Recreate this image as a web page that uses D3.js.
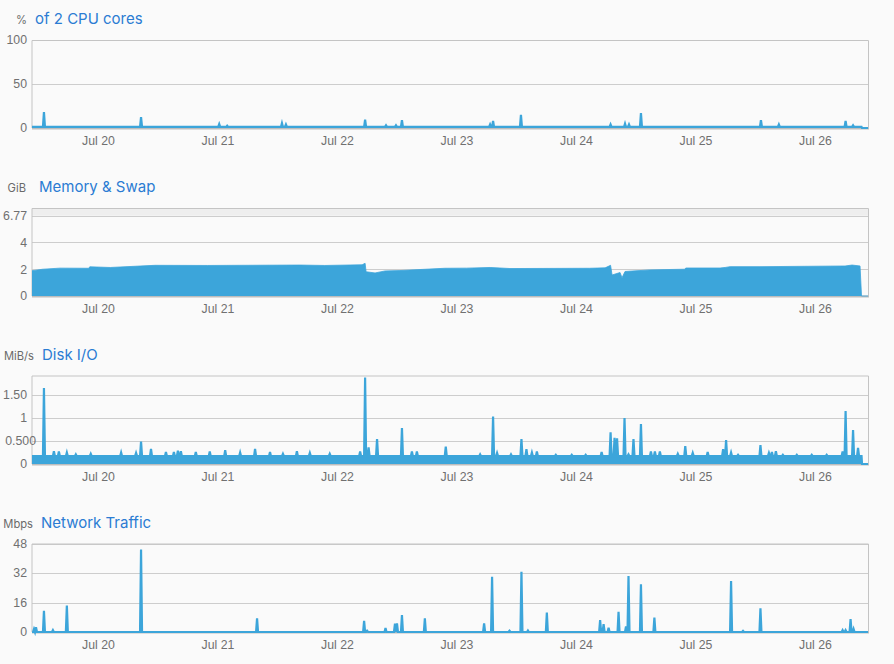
<!DOCTYPE html>
<html>
<head>
<meta charset="utf-8">
<script src="https://cdn.jsdelivr.net/npm/d3@7/dist/d3.min.js"></script>
<style>
  body { margin: 0; background: #fafafa; }
  svg { display: block; font-family: Inter, sans-serif; }
  .grid line { stroke: #cdcdcd; }
  .tick text { fill: #707070; font-size: 12.3px; }
  .title { fill: #2b7cd3; font-size: 15px; }
  .unit { fill: #6a6a6a; font-size: 11.2px; }
</style>
</head>
<body>
<svg id="chart" width="894" height="664"></svg>
<script>
// all times are hours after the left edge of the plots (Jul 19 12:33)
var dayLabels = ["Jul 20", "Jul 21", "Jul 22", "Jul 23", "Jul 24", "Jul 25", "Jul 26"];
var spanHours = 167.9;
var lastSample = 166.6;

var cpuHours = [2.4, 21.9, 37.6, 39.2, 50.2, 51.0, 66.9, 71.1, 73.1, 74.3, 92.0, 92.6, 98.2, 116.2, 119.1, 119.9, 122.3, 146.4, 150.0, 163.4, 164.9];
var cpuValues = [18, 12.5, 4.5, 2.5, 5.5, 4, 9.5, 3, 3, 9, 4, 8, 15, 4, 5, 4, 17, 9, 4, 8, 3];
var cpuBase = 1.2;
var cpuTicks = [0, 50, 100];

var memHours = [0, 2.2, 5.6, 11.4, 11.6, 15.7, 24.7, 35.3, 53.8, 58.8, 66.3, 66.9, 67.1, 68.9, 70.9, 73.9, 82.9, 87.3, 92.0, 96.0, 112, 115.1, 116.2, 116.5, 118.1, 118.5, 119.1, 122.1, 124.1, 131.1, 131.3, 138.2, 139.2, 140.2, 146.2, 163.3, 164.7, 166.3, 166.6, 167.9];
var memValues = [1.89, 2.0, 2.08, 2.07, 2.18, 2.13, 2.29, 2.28, 2.31, 2.28, 2.33, 2.44, 1.81, 1.72, 1.87, 1.9, 2.07, 2.08, 2.13, 2.05, 2.07, 2.1, 2.29, 1.57, 1.75, 1.37, 1.83, 1.9, 1.95, 2.0, 2.09, 2.09, 2.13, 2.19, 2.19, 2.24, 2.31, 2.24, 0, 0];
var memTicks = [0, 2, 4, 6];
var memTickLabels = ["0", "2", "4", "6.77"];
var memLimit = 6;

var diskHours = [2.4, 4.4, 5.4, 7.0, 8.8, 11.8, 17.9, 20.9, 21.9, 23.9, 26.9, 28.5, 29.3, 29.9, 32.9, 35.7, 38.8, 41.8, 44.8, 47.8, 50.4, 53.2, 55.8, 59.8, 65.9, 66.9, 67.6, 69.3, 74.3, 76.3, 77.3, 83.1, 90.0, 92.6, 93.4, 96.2, 98.3, 99.3, 100.4, 101.4, 105.2, 108.4, 111.2, 114.4, 116.2, 117.0, 117.5, 118.5, 119.0, 119.8, 120.8, 122.3, 124.3, 125.1, 126.1, 129.7, 131.2, 132.7, 135.7, 138.8, 139.4, 140.4, 141.8, 146.3, 148.0, 148.6, 149.4, 150.8, 153.6, 156.6, 159.6, 162.8, 163.4, 164.9, 165.9];
var diskValues = [1.65, 0.28, 0.27, 0.25, 0.21, 0.22, 0.25, 0.24, 0.49, 0.33, 0.26, 0.26, 0.29, 0.28, 0.26, 0.27, 0.3, 0.25, 0.33, 0.26, 0.22, 0.28, 0.24, 0.22, 0.27, 1.88, 0.36, 0.54, 0.78, 0.27, 0.27, 0.38, 0.21, 1.03, 0.24, 0.21, 0.54, 0.32, 0.25, 0.27, 0.2, 0.2, 0.2, 0.26, 0.69, 0.57, 0.56, 0.03, 1.0, 0.21, 0.54, 0.87, 0.27, 0.27, 0.27, 0.22, 0.39, 0.24, 0.26, 0.32, 0.52, 0.25, 0.2, 0.41, 0.24, 0.26, 0.28, 0.2, 0.2, 0.2, 0.2, 0.27, 1.15, 0.74, 0.35];
var diskBase = 0.17;
var diskTicks = [0, 0.5, 1, 1.5];
var diskTickLabels = ["0", "0.500", "1", "1.50"];

var netHours = [0.4, 0.8, 2.4, 4.2, 7.0, 21.9, 45.2, 66.7, 67.3, 71.0, 72.9, 73.3, 74.3, 78.9, 90.8, 92.4, 95.9, 98.3, 99.6, 103.4, 114.1, 114.8, 115.8, 117.8, 119.3, 119.8, 122.3, 125.0, 140.4, 142.8, 146.3, 162.8, 163.4, 164.4, 165.0];
var netValues = [1.6, 2.6, 11.5, 1, 14.3, 44.8, 7.4, 6.1, 0.7, 2.2, 4.6, 4.7, 9.2, 7.4, 4.7, 30, 0.7, 32.7, 0.8, 10.5, 6.5, 4.3, 2.3, 11, 3, 30.4, 25.9, 7.8, 27.7, 0.6, 12.9, 1, 1, 7, 1.7];
var netBase = 0;
var netTicks = [0, 16, 32, 48];

var svg = d3.select("#chart");
var left = 32, right = 868;
var start = new Date(2021, 6, 19, 12, 33);

function toDate(h) { return new Date(start.getTime() + h * 3600000); }

var x = d3.scaleTime()
  .domain([start, toDate(spanHours)])
  .range([left, right]);

// a sample series sits on its base level with a short peak at each reading
function spikes(hours, values, base) {
  var pts = [[0, base]];
  hours.forEach(function(h, i) {
    pts.push([h - 0.2, base], [h, values[i]], [h + 0.2, base]);
  });
  pts.push([lastSample, base], [lastSample + 0.1, 0], [spanHours, 0]);
  return pts;
}

function zip(hours, values) {
  return hours.map(function(h, i) { return [h, values[i]]; });
}

function drawPanel(p) {
  var y = d3.scaleLinear().domain(p.domain).range([p.bottom, p.top]);
  var g = svg.append("g");

  if (p.limit) {
    g.append("rect")
      .attr("x", left).attr("width", right - left)
      .attr("y", p.top).attr("height", y(p.limit) - p.top)
      .attr("fill", "#eeeeee");
  }

  var grid = g.append("g").attr("class", "grid");
  grid.selectAll("line")
    .data(p.ticks.filter(function(d) { return d > 0; }))
    .enter().append("line")
    .attr("x1", left).attr("x2", right)
    .attr("y1", function(d) { return Math.round(y(d)) + 0.5; })
    .attr("y2", function(d) { return Math.round(y(d)) + 0.5; });

  g.append("path")
    .attr("d", "M" + left + "," + p.bottom + "V" + (p.top + 0.5) + "H" + (right + 0.5) + "V" + p.bottom)
    .attr("fill", "none").attr("stroke", "#c4c4c4").attr("stroke-width", 1);
  g.append("line")
    .attr("x1", left).attr("x2", right + 1)
    .attr("y1", p.bottom + 0.5).attr("y2", p.bottom + 0.5)
    .attr("stroke", "#bdbdbd").attr("stroke-width", 2);

  var area = d3.area()
    .x(function(d) { return x(toDate(d[0])); })
    .y0(p.bottom)
    .y1(function(d) { return y(d[1]); });
  var line = d3.line()
    .x(function(d) { return x(toDate(d[0])); })
    .y(function(d) { return y(d[1]); });

  g.append("path").datum(p.points)
    .attr("d", area).attr("fill", "#3ca5da");
  g.append("path").datum(p.points)
    .attr("d", line).attr("fill", "none")
    .attr("stroke", "#3ca5da").attr("stroke-width", p.stroke);

  var yAxis = d3.axisLeft(y)
    .tickValues(p.ticks)
    .tickSize(0)
    .tickPadding(5)
    .tickFormat(function(d, i) { return p.labels ? p.labels[i] : d; });
  var ya = g.append("g").attr("transform", "translate(" + left + ",0)").call(yAxis);
  ya.select(".domain").remove();
  // the long label runs over the plot edge in the original
  ya.selectAll("text").filter(function(d) { return p.labels && p.labels[p.ticks.indexOf(d)] === "0.500"; })
    .attr("x", 4);

  var days = d3.timeDay.range(new Date(2021, 6, 20), new Date(2021, 6, 27));
  var xAxis = d3.axisBottom(x)
    .tickValues(days)
    .tickSize(0)
    .tickPadding(8)
    .tickFormat(function(d, i) { return dayLabels[i]; });
  var xa = g.append("g").attr("transform", "translate(0," + p.bottom + ")").call(xAxis);
  xa.select(".domain").remove();
  xa.selectAll("text").attr("dx", 9);

  g.append("text").attr("class", "unit")
    .attr("x", p.unitX).attr("y", p.titleY + 4.5).attr("text-anchor", "end").text(p.unit);
  g.append("text").attr("class", "title")
    .attr("x", p.titleX).attr("y", p.titleY + 5).text(p.title);
}

drawPanel({ title: "of 2 CPU cores", unit: "%", titleX: 35, titleY: 19, unitX: 27,
  top: 40, bottom: 128, domain: [0, 100], ticks: cpuTicks, stroke: 2.2,
  points: spikes(cpuHours, cpuValues, cpuBase) });
drawPanel({ title: "Memory & Swap", unit: "GiB", titleX: 39, titleY: 187, unitX: 26,
  top: 208, bottom: 296, domain: [0, 6.57], ticks: memTicks, labels: memTickLabels, limit: memLimit, stroke: 0.8,
  points: zip(memHours, memValues) });
drawPanel({ title: "Disk I/O", unit: "MiB/s", titleX: 42, titleY: 355, unitX: 34,
  top: 375.5, bottom: 464, domain: [0, 1.924], ticks: diskTicks, labels: diskTickLabels, stroke: 2.2,
  points: spikes(diskHours, diskValues, diskBase) });
drawPanel({ title: "Network Traffic", unit: "Mbps", titleX: 41, titleY: 523, unitX: 33,
  top: 543.5, bottom: 632, domain: [0, 48], ticks: netTicks, stroke: 2.2,
  points: spikes(netHours, netValues, netBase) });
</script>
</body>
</html>
